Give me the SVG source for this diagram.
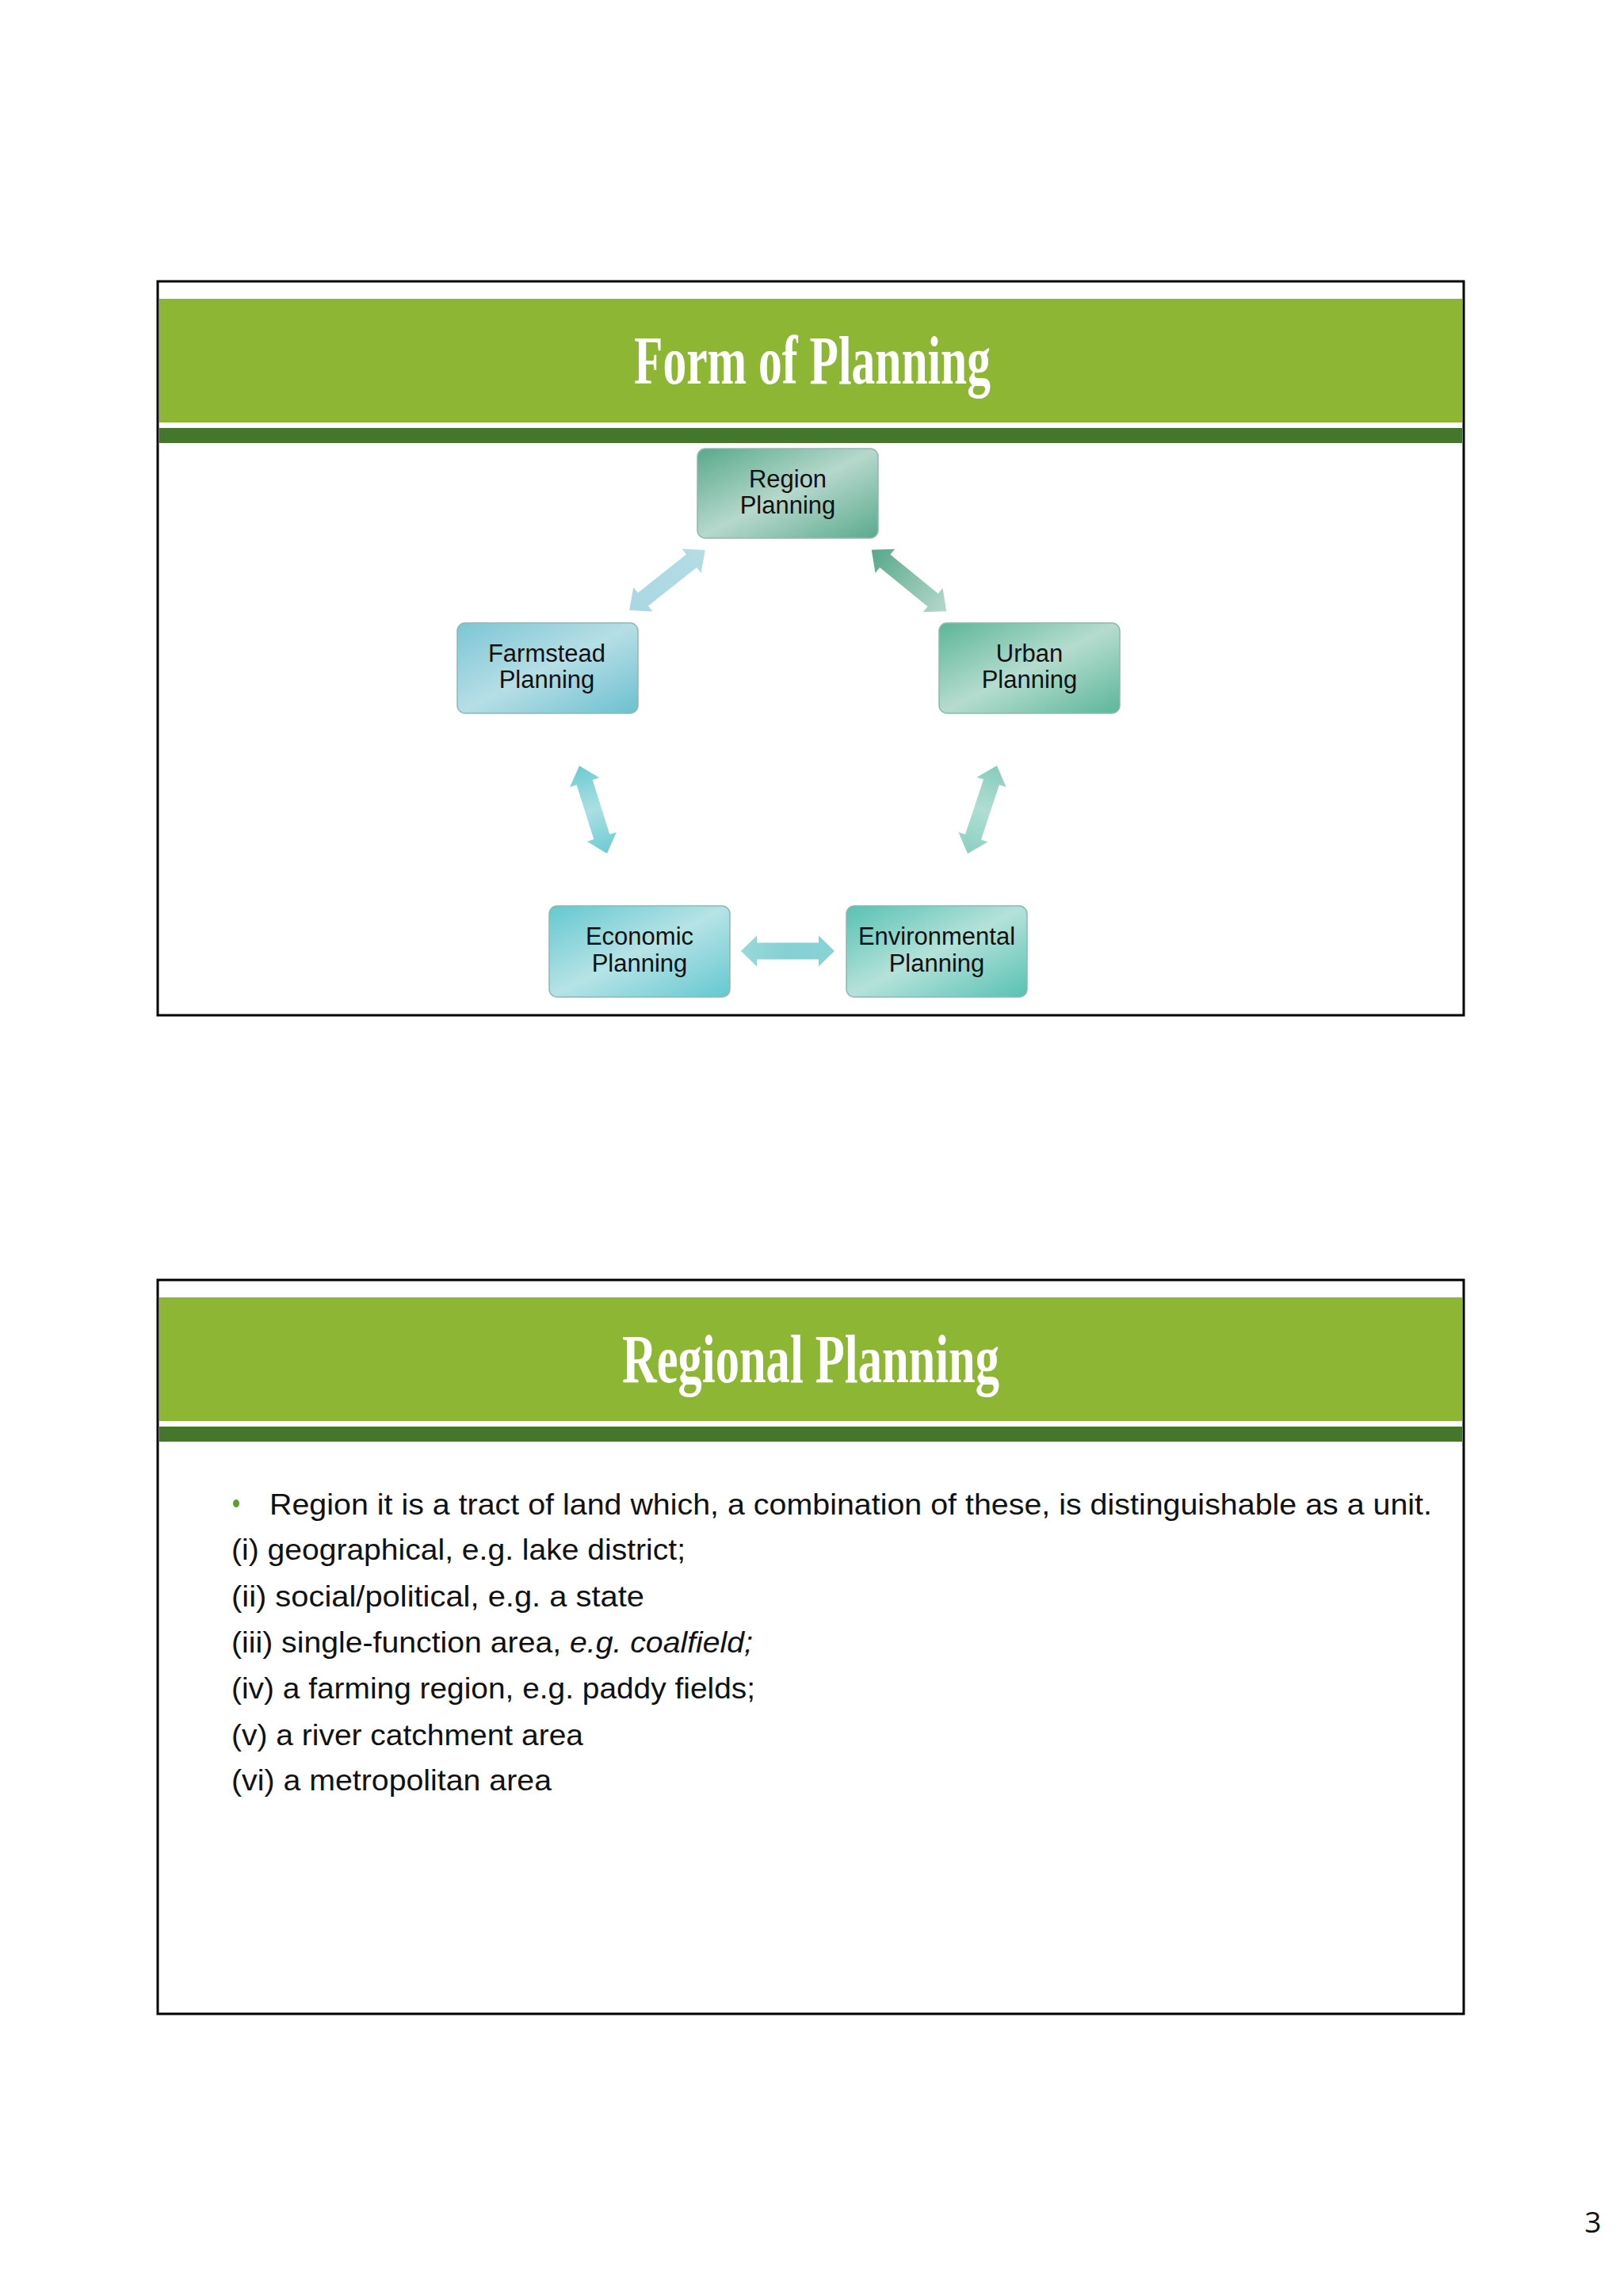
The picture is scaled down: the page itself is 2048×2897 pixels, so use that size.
<svg xmlns="http://www.w3.org/2000/svg" width="2048" height="2897" viewBox="0 0 2048 2897">
<style>
.frame{fill:#fff;stroke:#000;stroke-width:3}
.band{fill:#8cb634}
.dark{fill:#44762c}
.title{font-family:"Liberation Serif",serif;font-weight:bold;font-size:86px;fill:#fff}
.node rect{stroke:#8fb8b0;stroke-width:1.5}
.lbl{font-family:"Liberation Sans",Arial,sans-serif;font-size:31px;fill:#111;text-anchor:middle}
.body{font-family:"Liberation Sans",Arial,sans-serif;font-size:36px;fill:#111}
</style>
<defs>
<linearGradient id="gRegion" x1="0" y1="0" x2="1" y2="1"><stop offset="0" stop-color="#58a98c"/><stop offset="0.5" stop-color="#b6d8cc"/><stop offset="1" stop-color="#5aaa8e"/></linearGradient>
<linearGradient id="gFarm" x1="0" y1="0" x2="1" y2="1"><stop offset="0" stop-color="#7cc6d4"/><stop offset="0.5" stop-color="#b6dee6"/><stop offset="1" stop-color="#6cc0cf"/></linearGradient>
<linearGradient id="gUrban" x1="0" y1="0" x2="1" y2="1"><stop offset="0" stop-color="#5cb698"/><stop offset="0.5" stop-color="#b5dccf"/><stop offset="1" stop-color="#5cb699"/></linearGradient>
<linearGradient id="gEcon" x1="0" y1="0" x2="1" y2="1"><stop offset="0" stop-color="#64c8d0"/><stop offset="0.5" stop-color="#b6e3e6"/><stop offset="1" stop-color="#64c8d0"/></linearGradient>
<linearGradient id="gEnv" x1="0" y1="0" x2="1" y2="1"><stop offset="0" stop-color="#58c1b3"/><stop offset="0.5" stop-color="#b4e2da"/><stop offset="1" stop-color="#58c1b3"/></linearGradient>
<linearGradient id="aFarm" x1="0" y1="0" x2="1" y2="0"><stop offset="0" stop-color="#a9d7e2"/><stop offset="1" stop-color="#b4dde5"/></linearGradient>
<linearGradient id="aUrban" x1="0" y1="0" x2="1" y2="0"><stop offset="0" stop-color="#56a88a"/><stop offset="1" stop-color="#b6d8cc"/></linearGradient>
<linearGradient id="aEcon" x1="0" y1="0" x2="1" y2="0"><stop offset="0" stop-color="#6ccbd3"/><stop offset="0.5" stop-color="#abdfe3"/><stop offset="1" stop-color="#6ccbd3"/></linearGradient>
<linearGradient id="aEnv" x1="0" y1="0" x2="1" y2="0"><stop offset="0" stop-color="#86ccbd"/><stop offset="0.5" stop-color="#b0ded3"/><stop offset="1" stop-color="#8ccfc2"/></linearGradient>
<linearGradient id="aHor" x1="0" y1="0" x2="1" y2="0"><stop offset="0" stop-color="#9ad9db"/><stop offset="0.5" stop-color="#84d0d3"/><stop offset="1" stop-color="#8ad3d5"/></linearGradient>
</defs>
<rect width="2048" height="2897" fill="#fff"/>

<!-- Slide 1 -->
<rect class="frame" x="199" y="355" width="1648" height="926"/>
<rect class="band" x="201" y="377" width="1644" height="156"/>
<rect class="dark" x="201" y="540" width="1644" height="19"/>
<text class="title" x="1025" y="484" text-anchor="middle" textLength="450" lengthAdjust="spacingAndGlyphs">Form of Planning</text>

<g id="connectors">
<polygon fill="url(#aFarm)" transform="translate(842,732) rotate(-38.4)" points="-61,0 -39,-19.5 -39,-10.5 39,-10.5 39,-19.5 61,0 39,19.5 39,10.5 -39,10.5 -39,19.5"/>
<polygon fill="url(#aUrban)" transform="translate(1147,732.5) rotate(39.3)" points="-61,0 -39,-19.5 -39,-10.5 39,-10.5 39,-19.5 61,0 39,19.5 39,10.5 -39,10.5 -39,19.5"/>
<polygon fill="url(#aEcon)" transform="translate(748.5,1021.5) rotate(72.5)" points="-58,0 -36,-19.5 -36,-10.5 36,-10.5 36,-19.5 58,0 36,19.5 36,10.5 -36,10.5 -36,19.5"/>
<polygon fill="url(#aEnv)" transform="translate(1239.5,1021.5) rotate(108.4)" points="-58.5,0 -36.5,-19.5 -36.5,-10.5 36.5,-10.5 36.5,-19.5 58.5,0 36.5,19.5 36.5,10.5 -36.5,10.5 -36.5,19.5"/>
<polygon fill="url(#aHor)" transform="translate(994,1200)" points="-59,0 -39,-19.5 -39,-10.5 39,-10.5 39,-19.5 59,0 39,19.5 39,10.5 -39,10.5 -39,19.5"/>
</g>

<g id="node-region" class="node">
<rect x="880" y="566" width="228" height="113" rx="10" fill="url(#gRegion)"/>
<text class="lbl" x="994" y="615">Region</text>
<text class="lbl" x="994" y="648">Planning</text>
</g>
<g id="node-farmstead" class="node">
<rect x="577" y="786" width="228" height="114" rx="10" fill="url(#gFarm)"/>
<text class="lbl" x="690" y="835">Farmstead</text>
<text class="lbl" x="690" y="868">Planning</text>
</g>
<g id="node-urban" class="node">
<rect x="1185" y="786" width="228" height="114" rx="10" fill="url(#gUrban)"/>
<text class="lbl" x="1299" y="835">Urban</text>
<text class="lbl" x="1299" y="868">Planning</text>
</g>
<g id="node-economic" class="node">
<rect x="693" y="1143" width="228" height="115" rx="10" fill="url(#gEcon)"/>
<text class="lbl" x="807" y="1192">Economic</text>
<text class="lbl" x="807" y="1226">Planning</text>
</g>
<g id="node-environmental" class="node">
<rect x="1068" y="1143" width="228" height="115" rx="10" fill="url(#gEnv)"/>
<text class="lbl" x="1182" y="1192">Environmental</text>
<text class="lbl" x="1182" y="1226">Planning</text>
</g>

<!-- Slide 2 -->
<rect class="frame" x="199" y="1615" width="1648" height="926"/>
<rect class="band" x="201" y="1637" width="1644" height="156"/>
<rect class="dark" x="201" y="1800" width="1644" height="19"/>
<text class="title" x="1023" y="1744" text-anchor="middle" textLength="476" lengthAdjust="spacingAndGlyphs">Regional Planning</text>

<ellipse cx="298" cy="1897" rx="4" ry="5" fill="#5aa02c"/>
<text class="body" x="340" y="1911" textLength="1467" lengthAdjust="spacingAndGlyphs">Region it is a tract of land which, a combination of these, is distinguishable as a unit.</text>
<text class="body" x="292" y="1968" textLength="573" lengthAdjust="spacingAndGlyphs">(i) geographical, e.g. lake district;</text>
<text class="body" x="292" y="2027" textLength="521" lengthAdjust="spacingAndGlyphs">(ii) social/political, e.g. a state</text>
<text class="body" x="292" y="2085" textLength="658" lengthAdjust="spacingAndGlyphs">(iii) single-function area, <tspan font-style="italic">e.g. coalfield;</tspan></text>
<text class="body" x="292" y="2143" textLength="661" lengthAdjust="spacingAndGlyphs">(iv) a farming region, e.g. paddy fields;</text>
<text class="body" x="292" y="2202" textLength="444" lengthAdjust="spacingAndGlyphs">(v) a river catchment area</text>
<text class="body" x="292" y="2259" textLength="404" lengthAdjust="spacingAndGlyphs">(vi) a metropolitan area</text>

<text x="2010" y="2817" font-family="Open Sans, Liberation Sans, sans-serif" font-size="37" fill="#111" text-anchor="middle">3</text>
</svg>
